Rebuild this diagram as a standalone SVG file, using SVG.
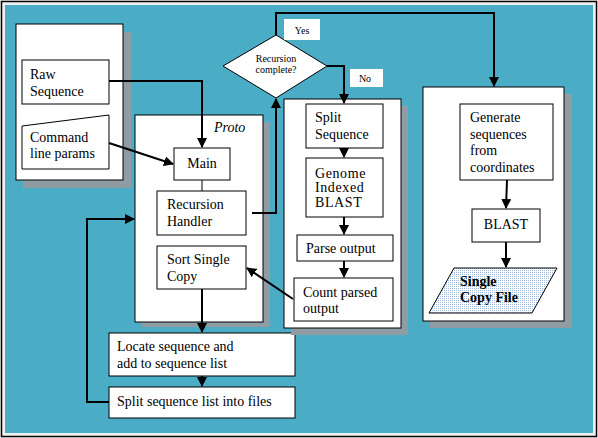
<svg xmlns="http://www.w3.org/2000/svg" width="598" height="438" viewBox="0 0 598 438">
<defs>
<pattern id="dots" width="2" height="2" patternUnits="userSpaceOnUse">
<rect width="2" height="2" fill="#ffffff"/>
<rect x="0" y="0" width="1" height="1" fill="#9db8d9"/>
</pattern>
<marker id="ah" markerWidth="10" markerHeight="10" refX="9" refY="5" orient="auto" markerUnits="userSpaceOnUse">
<path d="M0,0 L10,5 L0,10 z" fill="#000"/>
</marker>
<style>
.box{fill:#fff;stroke:#000;stroke-width:1}
.shadow{fill:#8f9ca3}
text{font-family:'Liberation Serif','DejaVu Serif',serif;fill:#000}
.t{font-size:14px}
.s{font-size:10px}
.c{fill:none;stroke:#000;stroke-width:2}
</style>
</defs>
<rect x="0" y="0" width="598" height="438" fill="#f0f0f0"/>
<rect x="1.5" y="1.5" width="595" height="435" fill="none" stroke="#000" stroke-width="1.5"/>
<rect x="5" y="5" width="588" height="428" fill="#4bacc6"/>

<g id="input-panel">
<rect class="shadow" x="23" y="32" width="108" height="156"/>
<rect class="box" x="16" y="24" width="107" height="156"/>
</g>
<g id="raw-sequence">
<rect class="box" x="22" y="60" width="87" height="44"/>
<text class="t" x="30" y="79" font-family="Liberation Serif, serif">Raw</text>
<text class="t" x="30" y="96" font-family="Liberation Serif, serif">Sequence</text>
</g>
<g id="command-line">
<path class="box" d="M22,126 L109,115 L109,169 L22,169 z"/>
<text class="t" x="30" y="142" font-family="Liberation Serif, serif">Command</text>
<text class="t" x="30" y="158" font-family="Liberation Serif, serif">line params</text>
</g>

<g id="proto">
<rect class="shadow" x="142" y="122" width="128" height="205"/>
<rect class="box" x="135" y="115" width="128" height="207"/>
<text class="t" x="214" y="132" font-style="italic" font-family="Liberation Serif, serif">Proto</text>
</g>
<g id="main">
<rect class="box" x="174" y="148" width="56" height="32"/>
<text class="t" x="202" y="168" text-anchor="middle" font-family="Liberation Serif, serif">Main</text>
</g>
<g id="recursion-handler">
<rect class="box" x="157" y="191" width="89" height="44"/>
<text class="t" x="167" y="209" font-family="Liberation Serif, serif">Recursion</text>
<text class="t" x="167" y="226" font-family="Liberation Serif, serif">Handler</text>
</g>
<g id="sort-single-copy">
<rect class="box" x="157" y="246" width="89" height="43"/>
<text class="t" x="167" y="264" font-family="Liberation Serif, serif">Sort Single</text>
<text class="t" x="167" y="281" font-family="Liberation Serif, serif">Copy</text>
</g>
<g id="locate-sequence">
<rect class="box" x="109" y="333" width="186" height="43"/>
<text class="t" x="117" y="351" font-family="Liberation Serif, serif">Locate sequence and</text>
<text class="t" x="117" y="368" font-family="Liberation Serif, serif">add to sequence list</text>
</g>
<g id="split-list">
<rect class="box" x="109" y="387" width="186" height="31"/>
<text class="t" x="117" y="406" font-family="Liberation Serif, serif">Split sequence list into files</text>
</g>

<g id="decision">
<path class="box" d="M223,66 L276,35 L327,66 L276,98 z"/>
<text class="s" x="276" y="62" text-anchor="middle" font-family="Liberation Serif, serif">Recursion</text>
<text class="s" x="276" y="73" text-anchor="middle" font-family="Liberation Serif, serif">complete?</text>
</g>
<g id="yes-label">
<rect x="284" y="19" width="36" height="21" fill="#fff"/>
<text class="s" x="302" y="34" text-anchor="middle" font-size="11" font-family="Liberation Serif, serif">Yes</text>
</g>
<g id="no-label">
<rect x="350" y="69" width="33" height="18" fill="#fff"/>
<text class="s" x="365" y="82" text-anchor="middle" font-size="11" font-family="Liberation Serif, serif">No</text>
</g>

<g id="blast-panel">
<rect class="shadow" x="291" y="106" width="117" height="229"/>
<rect class="box" x="284" y="99" width="117" height="229"/>
</g>
<g id="split-sequence">
<rect class="box" x="306" y="104" width="77" height="44"/>
<text class="t" x="315" y="122" font-family="Liberation Serif, serif">Split</text>
<text class="t" x="315" y="139" font-family="Liberation Serif, serif">Sequence</text>
</g>
<g id="genome-blast">
<rect class="box" x="306" y="158" width="77" height="59"/>
<text class="t" x="315" y="178" font-size="12" letter-spacing="0.6" font-family="Liberation Serif, serif">Genome</text>
<text class="t" x="315" y="192" font-size="12" letter-spacing="0.6" font-family="Liberation Serif, serif">Indexed</text>
<text class="t" x="315" y="207" font-size="12" letter-spacing="0.6" font-family="Liberation Serif, serif">BLAST</text>
</g>
<g id="parse-output">
<rect class="box" x="297" y="235" width="96" height="26"/>
<text class="t" x="306" y="253" font-family="Liberation Serif, serif">Parse output</text>
</g>
<g id="count-parsed">
<rect class="box" x="294" y="278" width="99" height="43"/>
<text class="t" x="303" y="297" font-family="Liberation Serif, serif">Count parsed</text>
<text class="t" x="303" y="313" font-family="Liberation Serif, serif">output</text>
</g>

<g id="output-panel">
<rect class="shadow" x="430" y="94" width="142" height="234"/>
<rect class="box" x="423" y="87" width="141" height="234"/>
</g>
<g id="generate-sequences">
<rect class="box" x="460" y="104" width="93" height="76"/>
<text class="t" x="470" y="122" font-family="Liberation Serif, serif">Generate</text>
<text class="t" x="470" y="139" font-family="Liberation Serif, serif">sequences</text>
<text class="t" x="470" y="155" font-family="Liberation Serif, serif">from</text>
<text class="t" x="470" y="172" font-family="Liberation Serif, serif">coordinates</text>
</g>
<g id="blast">
<rect class="box" x="472" y="209" width="68" height="33"/>
<text class="t" x="506" y="229" text-anchor="middle" font-family="Liberation Serif, serif">BLAST</text>
</g>
<g id="single-copy-file">
<path d="M454,268 L557,268 L532,313 L429,313 z" fill="url(#dots)" stroke="#000" stroke-width="1"/>
<text class="t" x="460" y="286" font-weight="bold" font-family="Liberation Serif, serif">Single</text>
<text class="t" x="460" y="302" font-weight="bold" font-family="Liberation Serif, serif">Copy File</text>
</g>

<g id="connectors">
<path class="c" d="M109,81 L202,81 L202,147" marker-end="url(#ah)"/>
<path class="c" d="M109,143 L173,164" marker-end="url(#ah)"/>
<path d="M202,180 L202,191" stroke="#000" stroke-width="1" fill="none"/>
<path class="c" d="M252,213 L276,213 L276,99" marker-end="url(#ah)"/>
<path class="c" d="M276,35 L276,13 L494,13 L494,86" marker-end="url(#ah)"/>
<path class="c" d="M327,66 L344,66 L344,103" marker-end="url(#ah)"/>
<path class="c" d="M344,148 L344,157" marker-end="url(#ah)"/>
<path class="c" d="M344,217 L344,234" marker-end="url(#ah)"/>
<path class="c" d="M344,261 L344,277" marker-end="url(#ah)"/>
<path class="c" d="M293,299 L247,268" marker-end="url(#ah)"/>
<path class="c" d="M507,180 L506,208" marker-end="url(#ah)"/>
<path class="c" d="M506,242 L506,267" marker-end="url(#ah)"/>
<path class="c" d="M202,289 L202,332" marker-end="url(#ah)"/>
<path class="c" d="M202,376 L202,386" marker-end="url(#ah)"/>
<path class="c" d="M109,402 L87,402 L87,219 L134,219" marker-end="url(#ah)"/>
</g>
</svg>
